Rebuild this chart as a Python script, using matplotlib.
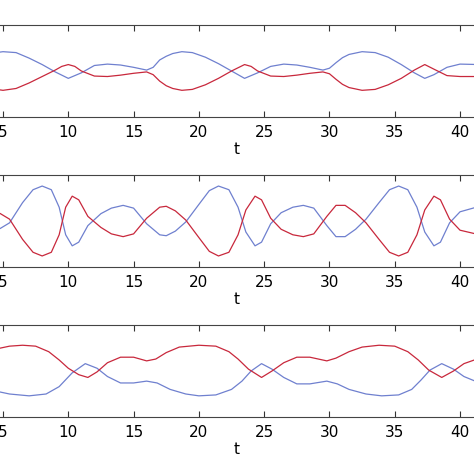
import matplotlib
matplotlib.use("Agg")
import matplotlib.pyplot as plt

# Panel 1
t1_blue = [4.5,5,6,7,8,9,10,11,12,13,14,15,16,16.5,17,17.5,18,18.7,19.5,20.5,21.5,22.5,23.5,24.5,25.5,26.5,27.5,28.5,29.5,30,30.5,31,31.5,32.5,33.5,34.5,35.5,36.5,37.3,38,39,40,41.5]
v1_blue = [.70,.71,.70,.64,.57,.49,.42,.48,.56,.575,.565,.54,.51,.54,.62,.66,.69,.71,.70,.65,.58,.50,.42,.48,.55,.575,.565,.54,.51,.53,.59,.645,.68,.71,.70,.65,.57,.48,.42,.46,.54,.575,.57]
t1_red = [4.5,5,6,7,8,9,9.5,10,10.5,11,12,13,14,15,16,16.5,17,17.5,18,18.7,19.5,20.5,21.5,22.5,23.5,24,24.5,25.5,26.5,27.5,28.5,29.5,30,30.5,31,31.5,32.5,33.5,34.5,35.5,36.5,37.3,38,39,40,41.5]
v1_red = [.30,.29,.31,.37,.44,.51,.55,.57,.55,.50,.445,.44,.455,.475,.49,.46,.39,.34,.31,.29,.30,.35,.42,.50,.57,.55,.50,.445,.44,.455,.475,.49,.47,.41,.355,.32,.29,.30,.35,.42,.51,.57,.52,.45,.44,.44]

# Panel 2
t2 = [4.5,4.8,5.5,6.5,7.3,8,8.7,9.3,9.8,10.3,10.8,11.5,12.5,13.3,14.2,15,16,17,17.5,18.2,19,20,20.8,21.5,22.3,23,23.6,24.3,24.8,25.5,26.3,27.2,28,28.8,29.8,30.5,31.2,32,32.8,33.8,34.6,35.3,36,36.7,37.3,38,38.5,39.2,40,41.5]
v2_blue = [.40,.42,.48,.70,.84,.88,.84,.65,.35,.23,.27,.45,.58,.64,.67,.64,.47,.35,.34,.39,.49,.68,.83,.88,.84,.65,.38,.23,.27,.47,.59,.65,.67,.64,.45,.33,.33,.41,.52,.70,.84,.88,.84,.65,.38,.23,.27,.48,.60,.66]
v2_red = [.60,.58,.52,.30,.16,.12,.16,.35,.65,.77,.73,.55,.43,.36,.33,.36,.53,.65,.66,.61,.51,.32,.17,.12,.16,.35,.62,.77,.73,.53,.41,.35,.33,.36,.55,.67,.67,.59,.48,.30,.16,.12,.16,.35,.62,.77,.73,.52,.40,.35]

# Panel 3
t3_red = [4.5,5.5,6.5,7.5,8.5,9.3,10,10.8,11.5,12.2,13,14,15,16,16.7,17.5,18.5,20,21.3,22.3,23,23.8,24.8,25.6,26.5,27.5,28.5,29.8,30.5,31.5,32.5,33.8,35,36,36.8,37.6,38.6,39.5,40.3,41.5]
v3_red = [.74,.77,.78,.77,.71,.62,.53,.46,.43,.49,.59,.65,.65,.61,.63,.70,.76,.78,.77,.71,.63,.52,.43,.50,.59,.65,.65,.61,.64,.71,.76,.78,.77,.71,.62,.51,.43,.50,.58,.64]
t3_blue = [4.5,5.5,7,8.3,9.3,10.3,11.3,12.2,13,14,15,16,16.8,17.8,19,20,21.3,22.5,23.3,24,24.8,25.6,26.5,27.5,28.5,29.8,30.6,31.5,32.8,34,35.3,36.3,37,37.7,38.6,39.5,40.3,41.5]
v3_blue = [.28,.25,.23,.25,.33,.48,.58,.53,.44,.37,.37,.39,.37,.30,.25,.23,.24,.30,.39,.50,.58,.52,.43,.36,.36,.39,.36,.30,.25,.23,.24,.30,.40,.51,.58,.52,.44,.37]

panels = [(t1_blue, v1_blue, t1_red, v1_red),
          (t2, v2_blue, t2, v2_red),
          (t3_blue, v3_blue, t3_red, v3_red)]
ticks = [5,10,15,20,25,30,35,40]
BLUE = "#6f80cf"
RED = "#c8283c"

fig = plt.figure(figsize=(4.74,4.74), dpi=100)
H = 474.0
tops = [25, 175, 325]
for (tb, vb, tr, vr), top in zip(panels, tops):
    ax = fig.add_axes([0, 1-(top+92)/H, 1, 92/H])
    ax.plot(tb, vb, color=BLUE, lw=0.9)
    ax.plot(tr, vr, color=RED, lw=0.9)
    ax.set_xlim(4.77, 41.07)
    ax.set_ylim(0, 1)
    ax.set_yticks([])
    ax.set_xticks(ticks)
    ax.tick_params(axis='x', direction='in', top=True, bottom=True, length=4, labelsize=11, pad=6, color='#333333')
    for s in ['left','right']:
        ax.spines[s].set_visible(False)
    for s in ['top','bottom']:
        ax.spines[s].set_color('#444444')
    ax.set_xlabel('t', fontsize=11, labelpad=1)

fig.savefig("out.png", dpi=100)
